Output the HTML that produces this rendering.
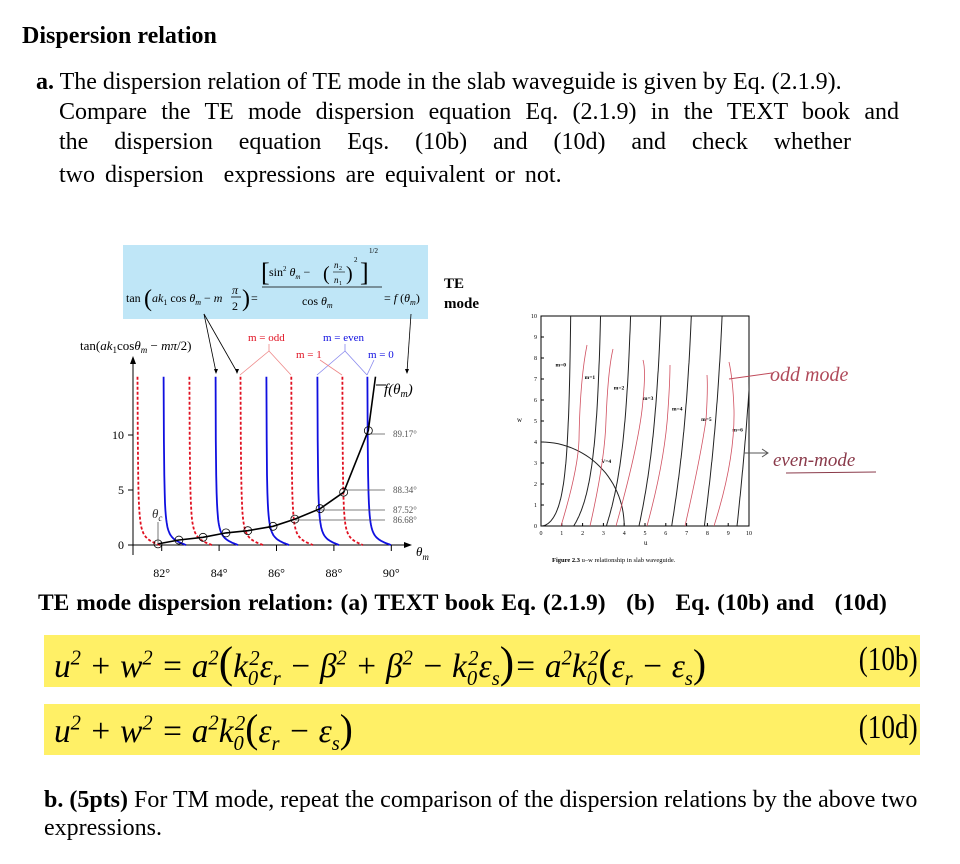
<!DOCTYPE html>
<html><head><meta charset="utf-8">
<style>
body{margin:0;background:#fff;}
#page{position:relative;width:960px;height:864px;overflow:hidden;font-family:"Liberation Serif",serif;color:#000;}
.abs{position:absolute;white-space:nowrap;}
.p{font-size:24px;}
.j{display:inline-block;text-align:justify;text-align-last:justify;white-space:normal;}
.eqbox{position:absolute;left:44px;width:876px;background:#fff066;}
.eq{position:absolute;left:10px;font-size:34px;font-style:italic;transform:scaleX(0.98);transform-origin:left center;white-space:nowrap;}
.eq sup,.eq sub{font-size:21px;}
.eqn{position:absolute;right:2px;font-size:34px;transform:scaleX(0.8);transform-origin:right center;}
svg text{font-family:"Liberation Serif",serif;}
</style></head><body>
<div id="page">
<div class="abs" style="left:22px;top:23px;font-size:24px;font-weight:bold">Dispersion relation</div>
<div class="abs p" style="left:36px;top:69px"><b>a.</b> The dispersion relation of TE mode in the slab waveguide is given by Eq. (2.1.9).</div>
<div class="abs p j" style="left:59px;top:99px;width:840px">Compare the TE mode dispersion equation Eq. (2.1.9) in the TEXT book and</div>
<div class="abs p j" style="left:59px;top:129px;width:792px">the dispersion equation Eqs. (10b) and (10d) and check whether</div>
<div class="abs p" style="left:59px;top:162px;word-spacing:4px">two dispersion &nbsp;expressions are equivalent or not.</div>

<svg class="abs" style="left:0;top:0" width="960" height="864" id="charts">
 <rect x="123" y="245" width="305" height="74" fill="#bfe6f7"/>
 <g id="formula" font-size="12">
  <text x="126" y="302">tan</text>
  <text x="144" y="306" font-size="24">(</text>
  <text x="152" y="302"><tspan font-style="italic">ak</tspan><tspan font-size="8" dy="3">1</tspan><tspan dy="-3"> cos </tspan><tspan font-style="italic">θ</tspan><tspan font-size="8" font-style="italic" dy="3">m</tspan><tspan dy="-3"> − </tspan><tspan font-style="italic">m</tspan></text>
  <text x="232" y="294" font-style="italic">π</text>
  <line x1="231" y1="297" x2="241" y2="297" stroke="#000" stroke-width="0.8"/>
  <text x="232" y="310">2</text>
  <text x="242" y="306" font-size="24">)</text>
  <text x="251" y="302">=</text>
  <line x1="262" y1="287" x2="382" y2="287" stroke="#000" stroke-width="0.8"/>
  <text x="261" y="281" font-size="26">[</text>
  <text x="269" y="276">sin<tspan font-size="7" dy="-5">2</tspan><tspan dy="5" font-style="italic"> θ</tspan><tspan font-size="7" dy="3" font-style="italic">m</tspan><tspan dy="-3"> − </tspan></text>
  <text x="323" y="280" font-size="20">(</text>
  <text x="334" y="268" font-size="9" font-style="italic">n</text><text x="339" y="270" font-size="6">2</text>
  <line x1="333" y1="272" x2="345" y2="272" stroke="#000" stroke-width="0.6"/>
  <text x="334" y="283" font-size="9" font-style="italic">n</text><text x="339" y="285" font-size="6">1</text>
  <text x="346" y="280" font-size="20">)</text><text x="354" y="262" font-size="7">2</text>
  <text x="360" y="281" font-size="26">]</text>
  <text x="369" y="253" font-size="7">1/2</text>
  <text x="302" y="305">cos <tspan font-style="italic">θ</tspan><tspan font-size="8" dy="3" font-style="italic">m</tspan></text>
  <text x="384" y="302">= <tspan font-style="italic">f</tspan> (<tspan font-style="italic">θ</tspan><tspan font-size="8" dy="3" font-style="italic">m</tspan><tspan dy="-3">)</tspan></text>
 </g>
 <text x="444" y="288" font-size="15" font-weight="bold">TE</text>
 <text x="444" y="308" font-size="15" font-weight="bold">mode</text>
 <g id="left"></g>
 <g id="right"></g>
</svg>

<div class="abs" style="left:38px;top:590px;font-size:23.5px;font-weight:bold;word-spacing:1px">TE mode dispersion relation: (a) TEXT book Eq. (2.1.9) &nbsp;&nbsp;(b) &nbsp;&nbsp;Eq. (10b) and &nbsp;&nbsp;(10d)</div>
<div class="eqbox" style="top:635px;height:52px">
 <div class="eq" style="top:2px">u<sup>2</sup> + w<sup>2</sup> = a<sup>2</sup><span style="font-style:normal;font-size:44px">(</span>k<sub>0</sub><sup style="margin-left:-9px">2</sup>ε<sub>r</sub> − β<sup>2</sup> + β<sup>2</sup> − k<sub>0</sub><sup style="margin-left:-9px">2</sup>ε<sub>s</sub><span style="font-style:normal;font-size:44px">)</span>= a<sup>2</sup>k<sub>0</sub><sup style="margin-left:-9px">2</sup><span style="font-style:normal;font-size:40px">(</span>ε<sub>r</sub> − ε<sub>s</sub><span style="font-style:normal;font-size:40px">)</span></div>
 <div class="eqn" style="top:6px">(10b)</div>
</div>
<div class="eqbox" style="top:704px;height:51px">
 <div class="eq" style="top:1px">u<sup>2</sup> + w<sup>2</sup> = a<sup>2</sup>k<sub>0</sub><sup style="margin-left:-9px">2</sup><span style="font-style:normal;font-size:40px">(</span>ε<sub>r</sub> − ε<sub>s</sub><span style="font-style:normal;font-size:40px">)</span></div>
 <div class="eqn" style="top:5px">(10d)</div>
</div>
<div class="abs p" style="left:44px;top:787px"><b>b. (5pts)</b> For TM mode, repeat the comparison of the dispersion relations by the above two</div>
<div class="abs p" style="left:44px;top:815px">expressions.</div>
</div>

<script>
// ---- left chart data ----
const xTickLabels = ['82°','84°','86°','88°','90°'];
const xTickValues = [82,84,86,88,90];
const yTickValues = [0,5,10];
const blueAsym = [82.05,83.86,85.63,87.41,89.15];
const blueZero = [82.85,84.66,86.44,88.18,89.99];
const redAsym = [81.14,82.95,84.73,86.5,88.28];
const redZero = [81.94,83.75,85.53,87.27,89.01];
const fTheta = [81.87,82.6,83.44,84.24,85.0,85.88,86.64,87.52,88.34,89.2,89.45];
const fValue = [0.1,0.45,0.7,1.1,1.3,1.7,2.35,3.3,4.8,10.4,15.3];
const markedLabels = ['89.17°','88.34°','87.52°','86.68°'];
const markedIdx = [9,8,7,6];
// ---- right chart data ----
const uTicks = [0,1,2,3,4,5,6,7,8,9,10];
const wTicks = [0,1,2,3,4,5,6,7,8,9,10];
const modeNumbers = [0,1,2,3,4,5,6];
const modeLabelU = [0.7,2.1,3.5,4.9,6.3,7.7,9.2];
const modeLabelW = [7.6,7.0,6.5,6.0,5.5,5.0,4.5];
const vRadius = 4;

const NS='http://www.w3.org/2000/svg';
function mk(parent,tag,attrs,text){const e=document.createElementNS(NS,tag);for(const k in attrs)e.setAttribute(k,attrs[k]);if(text!==undefined)e.textContent=text;parent.appendChild(e);return e;}
const L=document.getElementById('left');
const xL=d=>133+(d-81)*28.7, yL=v=>545-v*11;
let ax=mk(L,'line',{x1:133,y1:545,x2:410,y2:545,stroke:'#000','stroke-width':1});


mk(L,'path',{d:'M412 545 l-8 -3 l0 6 z',fill:'#000'});
let ay=mk(L,'line',{x1:133,y1:555,x2:133,y2:360,stroke:'#000','stroke-width':1});


mk(L,'path',{d:'M133 356 l-3 8 l6 0 z',fill:'#000'});
xTickValues.forEach((v,i)=>{
 mk(L,'line',{x1:xL(v),y1:545,x2:xL(v),y2:551,stroke:'#000'});
 const t=mk(L,'text',{x:xL(v),y:577,'font-size':12,'text-anchor':'middle'},xTickLabels[i]);
 
 
});
yTickValues.forEach(v=>{
 mk(L,'line',{x1:128,y1:yL(v),x2:133,y2:yL(v),stroke:'#000'});
 const t=mk(L,'text',{x:124,y:yL(v)+4,'font-size':12,'text-anchor':'end'},String(v));
 
 
});
let yt=mk(L,'text',{x:80,y:350,'font-size':13});
yt.innerHTML='tan(<tspan font-style="italic">ak</tspan><tspan font-size="9" dy="3">1</tspan><tspan dy="-3">cos</tspan><tspan font-style="italic">θ</tspan><tspan font-size="9" dy="3" font-style="italic">m</tspan><tspan dy="-3"> − </tspan><tspan font-style="italic">mπ</tspan>/2)';


let xt=mk(L,'text',{x:416,y:556,'font-size':13,'font-style':'italic'});
xt.innerHTML='θ<tspan font-size="9" dy="4">m</tspan>';


function branch(a,z,color,dash,name){
 const pts=[];const n=60;
 for(let i=1;i<=n;i++){const f=i/n;const th=a+(z-a)*f;let v=0.5/Math.tan(f*Math.PI/2);if(v>15.3)continue;pts.push(xL(th).toFixed(1)+','+yL(v).toFixed(1));}
 const top=xL(a+(z-a)*(2/Math.PI)*Math.atan(0.5/15.3));
 pts.unshift(top.toFixed(1)+','+yL(15.3));
 const p=mk(L,'polyline',{points:pts.join(' '),fill:'none',stroke:color,'stroke-width':1.8});
 if(dash)p.setAttribute('stroke-dasharray','3,2');
 
 
}
redAsym.forEach((a,i)=>branch(a,redZero[i],'#e01020',true,'odd-mode-branch'));
blueAsym.forEach((a,i)=>branch(a,blueZero[i],'#1010e0',false,'even-mode-branch'));
const fp=mk(L,'polyline',{points:fTheta.map((t,i)=>xL(t).toFixed(1)+','+yL(fValue[i]).toFixed(1)).join(' '),fill:'none',stroke:'#000','stroke-width':1.6});


fTheta.slice(0,10).forEach((t,i)=>{
 const c=mk(L,'circle',{cx:xL(t),cy:yL(fValue[i]),r:4,fill:'none',stroke:'#000','stroke-width':0.8});
 
 
});
markedIdx.forEach((k,i)=>{
 const y=[434,490,510,520][i];
 mk(L,'line',{x1:xL(fTheta[k]),y1:y,x2:385,y2:y,stroke:'#555','stroke-width':0.8});
 const t=mk(L,'text',{x:393,y:y+3,'font-size':9,fill:'#555'},markedLabels[i]);
 
 
});
let fl=mk(L,'text',{x:384,y:394,'font-size':15,'font-style':'italic'});
fl.innerHTML='f(θ<tspan font-size="10" dy="3">m</tspan><tspan dy="-3">)</tspan>';


mk(L,'line',{x1:376,y1:385,x2:386,y2:385,stroke:'#000'});
let tc=mk(L,'text',{x:152,y:518,'font-size':13,'font-style':'italic',fill:'#333'});
tc.innerHTML='θ<tspan font-size="9" dy="3">c</tspan>';


mk(L,'line',{x1:158,y1:522,x2:158,y2:544,stroke:'#555','stroke-width':0.8});
const ann=[['m = odd',248,341,'#e01020'],['m = even',323,341,'#1010e0'],['m = 1',296,358,'#e01020'],['m = 0',368,358,'#1010e0']];
ann.forEach(a=>{const t=mk(L,'text',{x:a[1],y:a[2],'font-size':11,fill:a[3]},a[0]);});
const lines=[[269,344,269,351,'#e88'],[269,351,240,375,'#e88'],[269,351,291,375,'#e88'],[345,344,345,351,'#88e'],[345,351,317,375,'#88e'],[345,351,367,375,'#88e'],[320,360,342,375,'#e88'],[374,360,367,375,'#88e'],[204,314,216,372,'#000'],[204,314,237,372,'#000'],[411,314,407,372,'#000']];
lines.forEach(l=>mk(L,'line',{x1:l[0],y1:l[1],x2:l[2],y2:l[3],stroke:l[4],'stroke-width':0.8}));
[[216,374],[237,374],[407,374]].forEach(p=>mk(L,'path',{d:`M${p[0]} ${p[1]} l-2 -5 l4 0 z`,fill:'#000'}));

// ---- right chart ----
const R=document.getElementById('right');
const xR=u=>541+u*20.8, yR=w=>526-w*21;
mk(R,'defs',{}).innerHTML='<clipPath id="rc"><rect x="541" y="316" width="208" height="210"/></clipPath>';
const box=mk(R,'rect',{x:541,y:316,width:208,height:210,fill:'none',stroke:'#000','stroke-width':1});


uTicks.forEach(u=>{mk(R,'line',{x1:xR(u),y1:526,x2:xR(u),y2:523,stroke:'#000'});mk(R,'text',{x:xR(u),y:535,'font-size':6,'text-anchor':'middle'},String(u));});
wTicks.forEach(w=>{mk(R,'line',{x1:541,y1:yR(w),x2:544,y2:yR(w),stroke:'#000'});mk(R,'text',{x:537,y:yR(w)+2,'font-size':6,'text-anchor':'end'},String(w));});
mk(R,'text',{x:644,y:545,'font-size':7},'u');
mk(R,'text',{x:517,y:422,'font-size':7},'w');
const cg=mk(R,'g',{'clip-path':'url(#rc)'});
modeNumbers.forEach(m=>{
 const u0=m*Math.PI/2;const pts=[];
 for(let u=u0;u<u0+Math.PI/2-0.001;u+=0.01){const w=u*Math.tan(u-u0);pts.push(xR(u).toFixed(1)+','+yR(w).toFixed(1));if(w>10.5)break;}
 const p=mk(cg,'polyline',{points:pts.join(' '),fill:'none',stroke:'#222','stroke-width':1});
 
 
 const t=mk(R,'text',{x:xR(modeLabelU[m]),y:yR(modeLabelW[m]),'font-size':5.5,'font-weight':'bold'},'m='+m);
 
 
});
const arcPts=[];for(let a=0;a<=90;a+=3){arcPts.push(xR(vRadius*Math.cos(a*Math.PI/180)).toFixed(1)+','+yR(vRadius*Math.sin(a*Math.PI/180)).toFixed(1));}
const arc=mk(R,'polyline',{points:arcPts.join(' '),fill:'none',stroke:'#222','stroke-width':1});


mk(R,'text',{x:xR(2.9),y:yR(3.0),'font-size':5.5,'font-weight':'bold'},'V=4');
const hand=['M561 526 Q578 470 579 440 Q580 380 587 345','M590 526 Q605 460 606 420 Q608 370 613 349','M616 526 Q640 440 643 400 Q646 370 643 360','M647 526 Q665 460 668 410 Q670 380 670 365','M685 526 Q700 460 706 420 Q708 390 707 375','M714 526 Q735 460 734 410 Q733 380 729 362'];
hand.forEach(d=>{const p=mk(R,'path',{d:d,fill:'none',stroke:'#d05060','stroke-width':0.8});});
mk(R,'path',{d:'M729 379 L772 373',fill:'none',stroke:'#c04a5a','stroke-width':1});
let om=mk(R,'text',{x:770,y:381,'font-size':20,'font-style':'italic',fill:'#b04a5a','font-family':'DejaVu Sans'},'odd mode');


mk(R,'path',{d:'M744 453 L768 453 M762 449 L768 453 L762 457',fill:'none',stroke:'#555','stroke-width':1});
let em=mk(R,'text',{x:773,y:466,'font-size':19,'font-style':'italic',fill:'#8a3a4a','font-family':'DejaVu Sans'},'even-mode');


mk(R,'line',{x1:786,y1:473,x2:876,y2:472,stroke:'#8a3a4a','stroke-width':1});
let cap=mk(R,'text',{x:552,y:562,'font-size':6.5},'');
cap.innerHTML='<tspan font-weight="bold">Figure 2.3</tspan>   u–w relationship in slab waveguide.';


</script>
</body></html>
